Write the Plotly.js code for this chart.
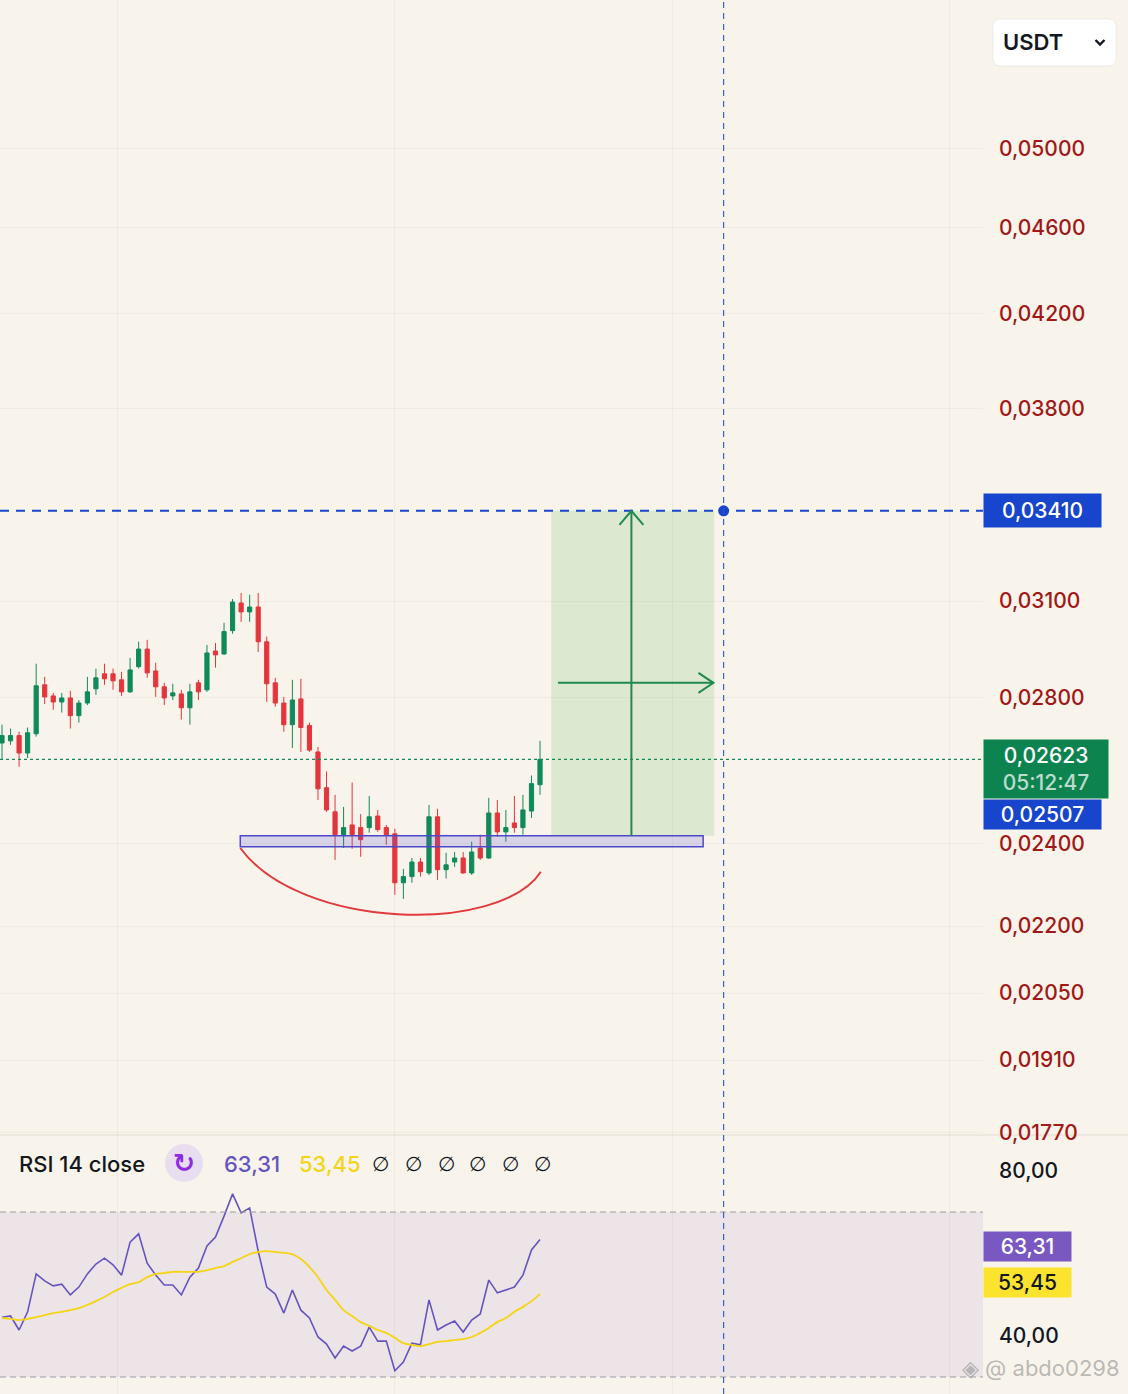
<!DOCTYPE html>
<html><head><meta charset="utf-8">
<script src="https://cdn.plot.ly/plotly-3.0.1.min.js"></script>
<style>html,body{margin:0;padding:0;background:#f9f4eb;}#chart{width:1128px;height:1394px;}</style>
</head><body><div id="chart"></div>
<script>
// ---------- DATA ----------
const candleOpen = [
0.02669,0.02675,0.02690,0.02641,0.02695,0.02838,0.02805,0.02787,0.02799,0.02747,
0.02784,0.02826,0.02871,0.02871,0.02853,0.02817,0.02893,0.02947,0.02880,0.02832,
0.02805,0.02811,0.02770,0.02844,0.02823,0.02941,0.02932,0.03005,0.03094,0.03065,
0.03081,0.02970,0.02844,0.02784,0.02721,0.02796,0.02719,0.02644,0.02546,0.02482,
0.02423,0.02448,0.02441,0.02441,0.02471,0.02441,0.02425,0.02303,0.02318,0.02354,
0.02327,0.02469,0.02335,0.02354,0.02364,0.02327,0.02389,0.02364,0.02479,0.02430,
0.02453,0.02441,0.02484,0.02554];
const candleHigh = [
0.02721,0.02710,0.02701,0.02713,0.02902,0.02862,0.02814,0.02814,0.02820,0.02793,
0.02862,0.02887,0.02902,0.02887,0.02877,0.02920,0.02970,0.02976,0.02905,0.02844,
0.02841,0.02823,0.02841,0.02853,0.02960,0.02966,0.03030,0.03107,0.03127,0.03121,
0.03127,0.02986,0.02859,0.02802,0.02853,0.02856,0.02727,0.02658,0.02590,0.02527,
0.02495,0.02560,0.02476,0.02524,0.02487,0.02448,0.02438,0.02337,0.02364,0.02364,
0.02500,0.02490,0.02377,0.02379,0.02379,0.02405,0.02423,0.02519,0.02513,0.02487,
0.02524,0.02527,0.02579,0.02675];
const candleLow = [
0.02622,0.02664,0.02603,0.02627,0.02687,0.02781,0.02764,0.02756,0.02710,0.02727,
0.02778,0.02808,0.02838,0.02823,0.02805,0.02814,0.02887,0.02859,0.02802,0.02778,
0.02793,0.02736,0.02721,0.02793,0.02817,0.02890,0.02929,0.02995,0.03033,0.03033,
0.02938,0.02787,0.02773,0.02701,0.02655,0.02644,0.02644,0.02513,0.02482,0.02359,
0.02389,0.02387,0.02367,0.02428,0.02430,0.02397,0.02274,0.02264,0.02303,0.02318,
0.02322,0.02310,0.02313,0.02342,0.02325,0.02322,0.02359,0.02362,0.02418,0.02405,
0.02428,0.02423,0.02466,0.02527];
const candleClose = [
0.02690,0.02690,0.02641,0.02698,0.02835,0.02802,0.02787,0.02799,0.02747,0.02784,
0.02817,0.02859,0.02856,0.02850,0.02817,0.02883,0.02947,0.02874,0.02832,0.02799,
0.02814,0.02770,0.02817,0.02817,0.02935,0.02929,0.03002,0.03097,0.03065,0.03081,
0.02970,0.02841,0.02784,0.02721,0.02793,0.02713,0.02649,0.02543,0.02487,0.02423,
0.02441,0.02423,0.02410,0.02469,0.02436,0.02423,0.02303,0.02318,0.02354,0.02330,
0.02469,0.02335,0.02347,0.02364,0.02327,0.02379,0.02364,0.02479,0.02430,0.02441,
0.02441,0.02487,0.02557,0.02623];
const rsiValues = [
44.5,44.8,41.4,45.8,55.0,53.3,52.1,52.5,49.9,51.8,
55.0,57.4,58.8,57.2,54.7,62.7,64.7,57.6,54.7,52.3,
52.3,49.9,54.2,56.4,61.8,63.9,69.0,74.4,69.8,71.0,
60.5,51.8,50.1,45.5,51.1,46.2,44.3,39.7,38.0,34.6,
37.5,36.3,37.5,42.1,38.7,38.7,31.5,33.6,38.2,37.8,
48.7,41.4,42.6,43.6,40.9,43.8,45.3,53.5,50.4,51.1,
51.8,54.7,60.8,63.31];
const rsiMA = [
44.3,44.1,43.8,44.1,44.5,45.0,45.5,45.8,46.2,46.7,
47.5,48.4,49.4,50.6,51.6,52.5,53.0,54.2,55.0,55.2,
55.5,55.5,55.5,55.5,55.9,56.4,56.9,57.9,58.8,59.8,
60.3,60.5,60.3,60.1,59.8,58.6,56.7,54.2,51.1,48.7,
46.2,44.8,43.3,42.4,41.4,40.7,39.5,38.2,37.8,37.5,
38.0,38.5,38.7,39.0,39.2,39.7,40.7,41.9,43.3,44.3,
45.8,47.0,48.4,50.1];
const priceTickValues = [0.05,0.046,0.042,0.038,0.031,0.028,0.024,0.022,0.0205,0.0191,0.0177];
const priceTickLabels = ['0,05000','0,04600','0,04200','0,03800','0,03100','0,02800','0,02400','0,02200','0,02050','0,01910','0,01770'];
const rsiTickValues = [80, 40];
const rsiTickLabels = ['80,00', '40,00'];
const rsiBands = [70, 30];
const targetPrice = 0.0341, targetLabel = '0,03410';
const lastPrice = 0.02623, lastLabel = '0,02623', countdown = '05:12:47';
const levelPrice = 0.02507, levelLabel = '0,02507';
const rsiLast = 63.31, rsiLastLabel = '63,31';
const rsiMALast = 53.45, rsiMALabel = '53,45';
// drawing objects (candle index / price)
const zoneStart = 27.9, zoneEnd = 82.1, zoneLow = 0.02392, zoneHigh = 0.02420;
const projStart = 64.3, projEnd = 83.4;
const vArrowX = 73.7;
const hArrowY = 0.02844, hArrowStart = 65.1, hArrowEnd = 83.3;
const cursorX = 84.5;
const arcX = [27.9, 34.9, 58.3, 63.1];
const arcY = [0.02389, 0.02191, 0.02180, 0.02330];

// ---------- LAYOUT ----------
const W = 1128, H = 1394;
const plotRightPx = 983, splitPx = 1135;
const xDom = plotRightPx / W;
const split = 1 - splitPx / H;
const FONT = 'Inter, "Noto Sans", "DejaVu Sans", sans-serif';
const GREEN = '#0f8a58', RED = '#e2363c', BLUE = '#1746cc';
const idx = candleOpen.map((_, i) => i);
const px = x => x / W, py = y => 1 - y / H;

function roundRect(x0, y0, x1, y1, r) {
  const P = (x, y) => px(x) + ',' + py(y);
  return 'M' + P(x0 + r, y0) + ' L' + P(x1 - r, y0) + ' Q' + P(x1, y0) + ' ' + P(x1, y0 + r) +
    ' L' + P(x1, y1 - r) + ' Q' + P(x1, y1) + ' ' + P(x1 - r, y1) +
    ' L' + P(x0 + r, y1) + ' Q' + P(x0, y1) + ' ' + P(x0, y1 - r) +
    ' L' + P(x0, y0 + r) + ' Q' + P(x0, y0) + ' ' + P(x0 + r, y0) + ' Z';
}

const traces = [
  { type: 'candlestick', x: idx, open: candleOpen, high: candleHigh, low: candleLow, close: candleClose,
    xaxis: 'x', yaxis: 'y', whiskerwidth: 0, hoverinfo: 'skip',
    increasing: { line: { color: GREEN, width: 1 }, fillcolor: GREEN },
    decreasing: { line: { color: RED, width: 1 }, fillcolor: RED } },
  { type: 'scatter', mode: 'markers', x: [cursorX], y: [targetPrice], xaxis: 'x', yaxis: 'y',
    marker: { size: 11, color: BLUE }, hoverinfo: 'skip' },
  { type: 'scatter', mode: 'lines', x: idx, y: rsiValues, xaxis: 'x2', yaxis: 'y2',
    line: { color: '#6554c0', width: 1.6 }, hoverinfo: 'skip' },
  { type: 'scatter', mode: 'lines', x: idx, y: rsiMA, xaxis: 'x2', yaxis: 'y2',
    line: { color: '#f5d416', width: 1.8, shape: 'spline' }, hoverinfo: 'skip' }
];

const shapes = [
  { type: 'line', xref: 'paper', yref: 'paper', x0: 0, x1: 1, y0: split, y1: split,
    line: { color: '#e3ddd1', width: 1 }, layer: 'below' },
  { type: 'rect', xref: 'x2 domain', yref: 'y2', x0: 0, x1: 1, y0: rsiBands[1], y1: rsiBands[0],
    fillcolor: 'rgba(126,87,194,0.10)', line: { width: 0 }, layer: 'below' },
  ...rsiBands.map(b => ({ type: 'line', xref: 'x2 domain', yref: 'y2', x0: 0, x1: 1, y0: b, y1: b,
    line: { color: '#9a9ca4', width: 1.2, dash: '6px,4px' } })),
  { type: 'rect', xref: 'x', yref: 'y', x0: projStart, x1: projEnd, y0: zoneHigh, y1: targetPrice,
    fillcolor: 'rgba(76,175,80,0.17)', line: { width: 0 }, layer: 'below' },
  { type: 'line', xref: 'x domain', yref: 'y', x0: 0, x1: 1, y0: lastPrice, y1: lastPrice,
    line: { color: GREEN, width: 1.2, dash: 'dot' } },
  { type: 'line', xref: 'x domain', yref: 'y', x0: 0, x1: 1, y0: targetPrice, y1: targetPrice,
    line: { color: BLUE, width: 2, dash: '9px,7px' } },
  { type: 'line', xref: 'x', yref: 'paper', x0: cursorX, x1: cursorX, y0: 0, y1: 1,
    line: { color: '#2a55c9', width: 1.1, dash: '6px,5px' } },
  { type: 'rect', xref: 'x', yref: 'y', x0: zoneStart, x1: zoneEnd, y0: zoneLow, y1: zoneHigh,
    fillcolor: 'rgba(95,90,215,0.22)', line: { color: '#4d48c9', width: 1.5 } },
  { type: 'line', xref: 'x', yref: 'y', x0: vArrowX, x1: vArrowX, y0: zoneHigh, y1: targetPrice,
    line: { color: '#1f8a4c', width: 2 } },
  { type: 'path', xref: 'x', yref: 'y',
    path: `M ${vArrowX - 1.4},${targetPrice * 0.9853} L ${vArrowX},${targetPrice} L ${vArrowX + 1.4},${targetPrice * 0.9853}`,
    line: { color: '#1f8a4c', width: 2 } },
  { type: 'line', xref: 'x', yref: 'y', x0: hArrowStart, x1: hArrowEnd, y0: hArrowY, y1: hArrowY,
    line: { color: '#1f8a4c', width: 2 } },
  { type: 'path', xref: 'x', yref: 'y',
    path: `M ${hArrowEnd - 1.75},${hArrowY * 1.0106} L ${hArrowEnd},${hArrowY} L ${hArrowEnd - 1.75},${hArrowY / 1.0106}`,
    line: { color: '#1f8a4c', width: 2 } },
  { type: 'path', xref: 'x', yref: 'y',
    path: `M ${arcX[0]},${arcY[0]} C ${arcX[1]},${arcY[1]} ${arcX[2]},${arcY[2]} ${arcX[3]},${arcY[3]}`,
    line: { color: '#e0393e', width: 2 } },
  // USDT selector
  { type: 'path', xref: 'paper', yref: 'paper', path: roundRect(993, 19, 1116, 66, 8),
    fillcolor: '#ffffff', line: { color: 'rgba(0,0,0,0.06)', width: 1 } },
  { type: 'path', xref: 'paper', yref: 'paper',
    path: `M ${px(1095.5)},${py(40)} L ${px(1100)},${py(44.5)} L ${px(1104.5)},${py(40)}`,
    line: { color: '#131722', width: 2.4 } },
  // RSI header icon circle
  { type: 'circle', xref: 'paper', yref: 'paper', x0: px(165), x1: px(203), y0: py(1182), y1: py(1144),
    fillcolor: '#e9def0', line: { width: 0 } }
];

const boxFont = { family: FONT, size: 21, color: '#ffffff', weight: 500 };
const annotations = [
  { xref: 'paper', yref: 'y', x: xDom, y: Math.log10(targetPrice), xanchor: 'left', yanchor: 'middle',
    text: targetLabel, showarrow: false, bgcolor: BLUE, width: 117, height: 33, borderpad: 0, font: boxFont },
  { xref: 'paper', yref: 'y', x: xDom, y: Math.log10(lastPrice), xanchor: 'left', yanchor: 'top', yshift: 20,
    text: lastLabel + '<br><span style="color:rgba(255,255,255,0.72)">' + countdown + '</span>',
    showarrow: false, bgcolor: '#0d8450', width: 124, height: 58, borderpad: 0, font: boxFont },
  { xref: 'paper', yref: 'y', x: xDom, y: Math.log10(levelPrice), xanchor: 'left', yanchor: 'top', yshift: 3,
    text: levelLabel, showarrow: false, bgcolor: BLUE, width: 117, height: 29, borderpad: 0, font: boxFont },
  { xref: 'paper', yref: 'y2', x: xDom, y: rsiLast, xanchor: 'left', yanchor: 'middle', yshift: -7,
    text: rsiLastLabel, showarrow: false, bgcolor: '#7a58c2', width: 87, height: 29, borderpad: 0, font: boxFont },
  { xref: 'paper', yref: 'y2', x: xDom, y: rsiMALast, xanchor: 'left', yanchor: 'middle', yshift: -2,
    text: rsiMALabel, showarrow: false, bgcolor: '#fbe32e', width: 87, height: 29, borderpad: 0,
    font: { family: FONT, size: 21, color: '#131722', weight: 500 } },
  // RSI header
  { xref: 'paper', yref: 'paper', x: px(17), y: py(1164), xanchor: 'left', yanchor: 'middle',
    text: 'RSI 14 close', showarrow: false, font: { family: FONT, size: 22, color: '#131722', weight: 500 } },
  { xref: 'paper', yref: 'paper', x: px(184), y: py(1163), xanchor: 'center', yanchor: 'middle',
    text: '↻', showarrow: false, font: { family: '"DejaVu Sans", sans-serif', size: 26, color: '#8e2de2', weight: 700 } },
  { xref: 'paper', yref: 'paper', x: px(222), y: py(1164), xanchor: 'left', yanchor: 'middle',
    text: rsiLastLabel, showarrow: false, font: { family: FONT, size: 22, color: '#6554c0', weight: 500 } },
  { xref: 'paper', yref: 'paper', x: px(297), y: py(1164), xanchor: 'left', yanchor: 'middle',
    text: rsiMALabel, showarrow: false, font: { family: FONT, size: 22, color: '#f3d417', weight: 500 } },
  ...[381, 413, 446, 478, 510, 542].map(x => ({ xref: 'paper', yref: 'paper', x: px(x), y: py(1164),
    xanchor: 'center', yanchor: 'middle', text: '∅', showarrow: false,
    font: { family: '"DejaVu Sans", sans-serif', size: 20, color: '#131722' } })),
  // USDT selector text
  { xref: 'paper', yref: 'paper', x: px(1001), y: py(42), xanchor: 'left', yanchor: 'middle',
    text: 'USDT', showarrow: false, font: { family: FONT, size: 22, color: '#131722', weight: 600 } },
  // watermark
  { xref: 'paper', yref: 'paper', x: px(1122), y: py(1368), xanchor: 'right', yanchor: 'middle',
    text: '◈ @ abdo0298', showarrow: false, font: { family: FONT, size: 22, color: 'rgba(150,150,150,0.65)' } }
];

const gridX = [13.5, 46, 78.5, 111];
const layout = {
  width: W, height: H, margin: { l: 0, r: 0, t: 0, b: 0 },
  paper_bgcolor: '#f9f4eb', plot_bgcolor: 'rgba(0,0,0,0)', showlegend: false,
  font: { family: FONT, color: '#131722' }, boxgap: 0.3,
  xaxis: { domain: [0, xDom], range: [-0.234, 114.87], anchor: 'y', showticklabels: false, ticks: '',
    tickvals: gridX, showgrid: true, gridcolor: 'rgba(0,0,0,0.035)', zeroline: false, showline: false,
    rangeslider: { visible: false }, fixedrange: true },
  xaxis2: { matches: 'x', domain: [0, xDom], anchor: 'y2', showticklabels: false, ticks: '',
    tickvals: gridX, showgrid: true, gridcolor: 'rgba(0,0,0,0.035)', zeroline: false, showline: false },
  yaxis: { domain: [split, 1], type: 'log', range: [-1.75331, -1.23313], anchor: 'x', side: 'right',
    tickvals: priceTickValues, ticktext: priceTickLabels, ticks: '', ticklabelstandoff: 15,
    tickfont: { family: FONT, size: 21, color: '#a01818', weight: 500 },
    showgrid: true, gridcolor: 'rgba(0,0,0,0.03)', zeroline: false, showline: false, fixedrange: true },
  yaxis2: { domain: [0, split], range: [25.88, 88.67], anchor: 'x2', side: 'right',
    tickvals: rsiTickValues, ticktext: rsiTickLabels, ticks: '', ticklabelstandoff: 15,
    tickfont: { family: FONT, size: 21, color: '#131722', weight: 500 },
    showgrid: false, zeroline: false, showline: false, fixedrange: true },
  shapes: shapes, annotations: annotations
};

Plotly.newPlot('chart', traces, layout, { staticPlot: true, displayModeBar: false });
</script></body></html>
